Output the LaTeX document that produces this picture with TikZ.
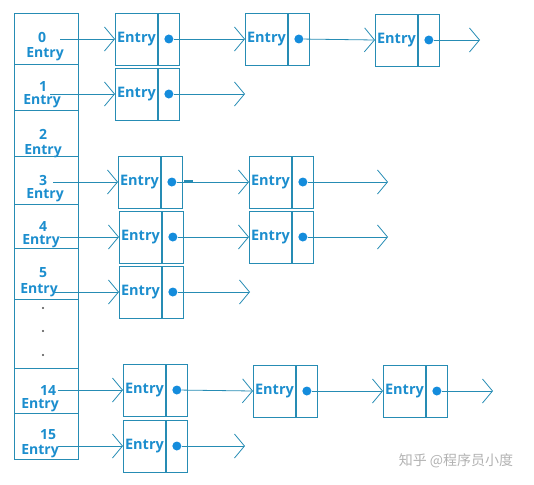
\documentclass[tikz,border=0pt]{standalone}
\usepackage{fontspec}
\setmainfont{Open Sans}
\newfontfamily\cjkfont{Noto Sans CJK SC}
\usetikzlibrary{arrows.meta}
\definecolor{linecol}{RGB}{38,140,180}
\definecolor{textcol}{RGB}{28,142,206}
\definecolor{dotcol}{RGB}{20,140,220}
\tikzset{
	cell/.style={draw=linecol, line width=0.9pt, minimum width=64pt, inner sep=0pt, anchor=north west},
	keypart/.style={draw=linecol, line width=0.9pt, minimum width=42pt, minimum height=52pt, inner sep=0pt, anchor=west, text=textcol, font=\bfseries\fontsize{14.5}{15}\selectfont},
	ptrpart/.style={draw=linecol, line width=0.9pt, minimum width=21pt, minimum height=52pt, inner sep=0pt, anchor=west},
	ptrdot/.style={circle, fill=dotcol, inner sep=0pt, minimum size=9pt},
	lbl/.style={text=textcol, font=\bfseries\fontsize{14}{15}\selectfont, inner sep=0pt},
	link/.style={draw=linecol, line width=0.8pt, -{Straight Barb[length=10pt,width=24pt]}},
}
% one list entry: key part, pointer part and its dot
\newcommand{\entrynode}[3]{
	\node[keypart] (#1) at (#2,#3) {Entry};
	\node[ptrpart] (#1p) at (#1.east) {};
	\node[ptrdot] (#1d) at (#1p.center) {};
}

\begin{document}
\begin{tikzpicture}[x=1pt,y=-1pt]
	\useasboundingbox (0,0) rectangle (534,484);
	% bucket array
	\foreach \n/\t/\h in {c0/13/51, c1/64/46, c2/110/46, c3/156/48, c4/204/44, c5/248/51, cdots/299/69, c14/368/45, c15/413/46}
		\node[cell, minimum height=\h pt] (\n) at (14,\t) {};
	\foreach \k/\x/\y in {0/42/37, 1/43/87, 2/43/134, 3/43/180, 4/43/226, 5/43/273, 14/48/390, 15/48/435}
		\node[lbl] (num\k) at (\x,\y) {\k};
	\foreach \k/\x/\y in {0/45/54, 1/42/101, 2/43/151, 3/45/195, 4/41/241, 5/39/290, 14/40/405, 15/40/451}
		\node[lbl] (ent\k) at (\x,\y) {Entry};
	\foreach \y [count=\i] in {308,331,355}
		\fill[black!70] (43,\y) circle (1.2pt);

	% chains
	\entrynode{r0a}{115}{39}
	\entrynode{r0b}{245}{39}
	\entrynode{r0c}{375}{40}
	\entrynode{r1a}{115}{94}
	\entrynode{r3a}{118}{182}
	\entrynode{r3b}{249}{182}
	\entrynode{r4a}{119}{237}
	\entrynode{r4b}{249}{237}
	\entrynode{r5a}{119}{292}
	\entrynode{r14a}{123}{390}
	\entrynode{r14b}{253}{391}
	\entrynode{r14c}{383}{391}
	\entrynode{r15a}{123}{446}

	% start points in the buckets and free ends
	\coordinate (s0) at (60,39);
	\coordinate (s1) at (50,94);
	\coordinate (s3) at (53,182);
	\coordinate (s4) at (60,237);
	\coordinate (s5) at (55,292);
	\coordinate (s14) at (58,390);
	\coordinate (s15) at (58,446);
	\coordinate (t0) at (480,40);
	\coordinate (t1) at (245,94);
	\coordinate (t3) at (388,182);
	\coordinate (t4) at (388,237);
	\coordinate (t5) at (250,292);
	\coordinate (t14) at (493,391);
	\coordinate (t15) at (245,446);

	\draw[link] (s0) -- (r0a.west);
	\draw[link] (r0ad) -- (r0b.west);
	\draw[link] (r0bd) -- (r0c.west);
	\draw[link] (r0cd) -- (t0);
	\draw[link] (s1) -- (r1a.west);
	\draw[link] (r1ad) -- (t1);
	\draw[link] (s3) -- (r3a.west);
	\draw[link] (r3ad) -- (r3b.west);
	\draw[linecol, line width=1.6pt] (184,181) -- (193,181);
	\draw[link] (r3bd) -- (t3);
	\draw[link] (s4) -- (r4a.west);
	\draw[link] (r4ad) -- (r4b.west);
	\draw[link] (r4bd) -- (t4);
	\draw[link] (s5) -- (r5a.west);
	\draw[link] (r5ad) -- (t5);
	\draw[link] (s14) -- (r14a.west);
	\draw[link] (r14ad) -- (r14b.west);
	\draw[link] (r14bd) -- (r14c.west);
	\draw[link] (r14cd) -- (t14);
	\draw[link] (s15) -- (r15a.west);
	\draw[link] (r15ad) -- (t15);

	% watermark
	\node[text=black!30, font=\cjkfont\fontsize{14}{16}\selectfont, inner sep=0pt] (mark) at (456,461) {知乎 @程序员小度};
\end{tikzpicture}
\end{document}
